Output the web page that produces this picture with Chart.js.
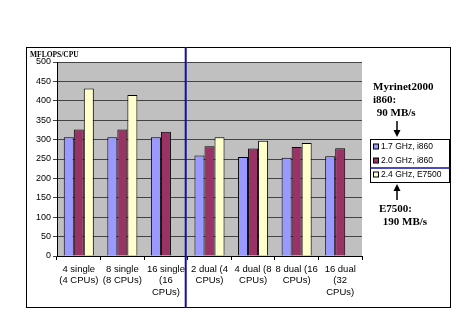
<!DOCTYPE html>
<html><head><meta charset="utf-8">
<script src="https://cdn.jsdelivr.net/npm/chart.js@4"></script>
<style>html,body{margin:0;padding:0;background:#fff;}#wrap{width:474px;height:329px;}</style>
</head><body><div id="wrap"><canvas id="c" width="474" height="329"></canvas></div>
<script>
const categories = [["4 single","(4 CPUs)"],["8 single","(8 CPUs)"],["16 single","(16","CPUs)"],["2 dual (4","CPUs)"],["4 dual (8","CPUs)"],["8 dual (16","CPUs)"],["16 dual","(32","CPUs)"]];
const seriesNames = ["1.7 GHz, i860","2.0 GHz, i860","2.4 GHz, E7500"];
const s17 = [306,306,306,259,255,253,257];
const s20 = [326,326,320,283,277,281,278];
const s24 = [432,415,null,306,297,291,null];
const yTicks = [0,50,100,150,200,250,300,350,400,450,500];
const yTitle = "MFLOPS/CPU";
const noteTop = ["Myrinet2000","i860:"," 90 MB/s"];
const noteBottom = ["E7500:"," 190 MB/s"];
const colors = ["#9999FF","#993366","#FFFFCC"];

const deco = {
  id:'deco',
  beforeDraw(chart){
    const {ctx, chartArea:a} = chart;
    ctx.save();
    ctx.fillStyle = '#C0C0C0';
    ctx.fillRect(a.left, a.top, a.right-a.left, a.bottom-a.top);
    ctx.restore();
  },
  afterDraw(chart){
    const {ctx} = chart;
    const x = chart.scales.x;
    ctx.save();
    ctx.strokeStyle = '#000'; ctx.lineWidth = 1;
    ctx.strokeRect(26.5, 47.5, 424, 260);
    ctx.fillStyle = '#000';
    ctx.font = 'bold 7.5px "Liberation Serif"';
    ctx.textBaseline = 'middle'; ctx.textAlign = 'left';
    ctx.fillText(yTitle, 30, 55);
    const bx = x.getPixelForValue(2.5) - 2;
    ctx.strokeStyle = '#1010A0'; ctx.lineWidth = 2;
    ctx.beginPath(); ctx.moveTo(bx, 47); ctx.lineTo(bx, 308); ctx.stroke();
    const lx = 370, ly = 139, lw = 79, lh = 43;
    ctx.fillStyle = '#fff'; ctx.fillRect(lx, ly, lw, lh);
    ctx.strokeStyle = '#000'; ctx.lineWidth = 1;
    ctx.strokeRect(lx+0.5, ly+0.5, lw, lh);
    ctx.font = '8.5px "Liberation Sans"';
    ctx.textBaseline = 'middle';
    seriesNames.forEach((n,i)=>{
      const yy = ly + 7.5 + i*14;
      ctx.fillStyle = colors[i];
      ctx.fillRect(lx+3, yy-2.5, 5, 5);
      ctx.strokeStyle = '#000';
      ctx.strokeRect(lx+3.5, yy-2.5, 5, 5);
      ctx.fillStyle = '#000';
      ctx.fillText(n, lx+11, yy+0.5);
    });
    ctx.strokeStyle = '#1010A0'; ctx.lineWidth = 1.5;
    ctx.beginPath(); ctx.moveTo(370, 168); ctx.lineTo(450, 168); ctx.stroke();
    ctx.fillStyle = '#000';
    ctx.font = 'bold 11px "Liberation Serif"';
    ctx.textAlign = 'left';
    ctx.fillText(noteTop[0], 373, 87);
    ctx.fillText(noteTop[1], 373, 100);
    ctx.fillText(noteTop[2], 374, 113);
    ctx.fillText(noteBottom[0], 379, 209);
    ctx.fillText(noteBottom[1], 380, 222);
    ctx.strokeStyle = '#000'; ctx.lineWidth = 1.5;
    ctx.beginPath(); ctx.moveTo(397, 121); ctx.lineTo(397, 131); ctx.stroke();
    ctx.beginPath(); ctx.moveTo(393.5,130); ctx.lineTo(400.5,130); ctx.lineTo(397,137); ctx.closePath(); ctx.fill();
    ctx.beginPath(); ctx.moveTo(397, 190); ctx.lineTo(397, 200); ctx.stroke();
    ctx.beginPath(); ctx.moveTo(393.5,191); ctx.lineTo(400.5,191); ctx.lineTo(397,184); ctx.closePath(); ctx.fill();
    ctx.restore();
  }
};

new Chart(document.getElementById('c'), {
  type:'bar',
  data:{
    labels: categories,
    datasets: [s17,s20,s24].map((d,i)=>({
      label: seriesNames[i], data: d,
      backgroundColor: colors[i], borderColor:'#000', borderWidth:1,
      barPercentage: 1.0, categoryPercentage: 0.69
    }))
  },
  options:{
    responsive:false, animation:false,
    layout:{padding:{left:26, right:112, top:62, bottom:16}},
    plugins:{legend:{display:false}, tooltip:{enabled:false}},
    scales:{
      x:{
        grid:{display:true, drawOnChartArea:false, offset:true, color:'#000', tickLength:4},
        border:{display:true, color:'#000'},
        ticks:{color:'#000', font:{family:'"Liberation Sans"', size:9.5, lineHeight:1.25}, maxRotation:0, autoSkip:false, padding:3},
        afterFit(s){ s.height = 57; }
      },
      y:{
        min:0, max:500,
        afterBuildTicks(s){ s.ticks = yTicks.map(v=>({value:v})); },
        grid:{color:'#444', tickLength:4},
        border:{display:true, color:'#000'},
        ticks:{color:'#000', font:{family:'"Liberation Sans"', size:9}, padding:2},
        afterFit(s){ s.width = 31; }
      }
    }
  },
  plugins:[deco]
});
</script></body></html>
